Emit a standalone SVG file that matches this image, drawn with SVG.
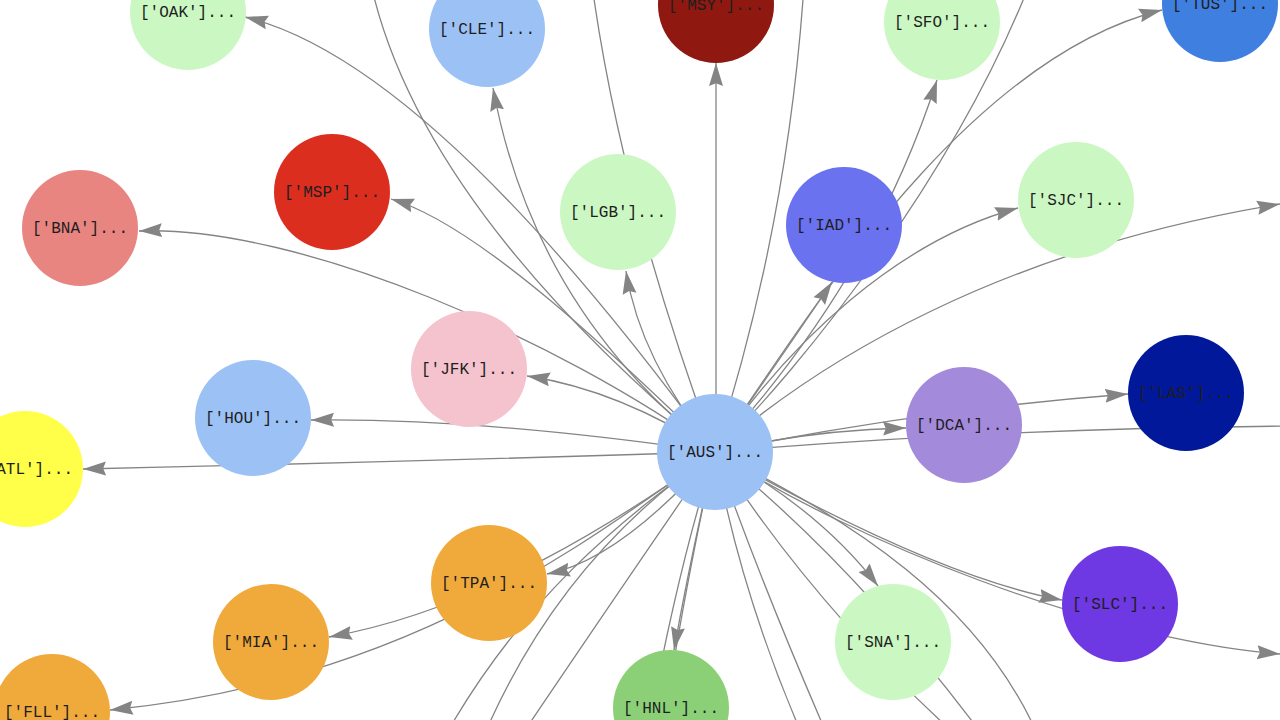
<svg xmlns="http://www.w3.org/2000/svg" width="1280" height="720" viewBox="0 0 1280 720">
<defs>
<marker id="arr" markerUnits="userSpaceOnUse" markerWidth="24" markerHeight="15" viewBox="0 0 24 15" refX="23" refY="7.5" orient="auto">
<path d="M23,7.5 L0,0.5 L2.8,7.5 L0,14.5 Z" fill="#848484"/>
</marker>
</defs>
<style>
.e{fill:none;stroke:#848484;stroke-width:1.3}
.a{marker-end:url(#arr)}
.n text{font-family:"Liberation Mono","Courier New",monospace;font-size:16px;fill:#1e1e1e;text-anchor:middle}
</style>
<rect width="1280" height="720" fill="#ffffff"/>
<g id="edges">
<path class="e a" d="M715,452 Q430,62 245,17"/>
<path class="e" d="M715,452 Q418,204 370,-20"/>
<path class="e a" d="M715,452 Q534,310 493,88"/>
<path class="e" d="M715,452 Q618,189 590,-30"/>
<path class="e a" d="M715,452 Q640,360 626,271"/>
<path class="e a" d="M716,452 L716,63"/>
<path class="e" d="M715,452 Q790,219 805,-30"/>
<path class="e a" d="M715,452 Q873,280 937,80"/>
<path class="e a" d="M715,452 C800,330 960,60 1162,10"/>
<path class="e" d="M715,452 C800,370 960,170 1035,-30"/>
<path class="e a" d="M715,452 Q800,330 832,282"/>
<path class="e a" d="M715,452 C790,340 900,240 1018,208"/>
<path class="e a" d="M715,452 C820,360 1000,250 1280,204"/>
<path class="e a" d="M715,452 C620,360 480,225 391,199"/>
<path class="e a" d="M715,452 C560,340 300,225 139,231"/>
<path class="e a" d="M715,452 Q620,390 527,376"/>
<path class="e a" d="M715,452 Q480,418 311,420"/>
<path class="e a" d="M715,452 Q400,462 83,469"/>
<path class="e a" d="M715,452 Q810,430 906,428"/>
<path class="e a" d="M715,452 Q920,410 1128,394"/>
<path class="e" d="M715,452 Q1000,428 1300,426"/>
<path class="e a" d="M715,452 Q620,560 547,574"/>
<path class="e a" d="M715,452 C620,520 480,610 329,637"/>
<path class="e a" d="M715,452 C600,530 420,680 110,710"/>
<path class="e a" d="M715,452 Q690,560 674,650"/>
<path class="e a" d="M715,452 Q820,510 878,586"/>
<path class="e a" d="M715,452 C800,500 950,580 1062,600"/>
<path class="e a" d="M715,452 C850,540 1100,640 1280,654"/>
<path class="e" d="M715,452 C620,520 520,600 440,745"/>
<path class="e" d="M715,452 C630,510 540,600 480,745"/>
<path class="e" d="M715,452 Q640,560 515,745"/>
<path class="e" d="M715,452 Q680,560 650,720"/>
<path class="e" d="M715,452 Q690,560 664,720"/>
<path class="e" d="M715,452 Q740,590 800,730"/>
<path class="e" d="M715,452 Q760,580 825,730"/>
<path class="e" d="M715,452 Q810,600 945,725"/>
<path class="e" d="M715,452 Q850,560 975,725"/>
<path class="e" d="M715,452 C850,520 980,600 1040,740"/>
</g>
<g id="node-OAK" class="n"><circle cx="188" cy="12" r="58" fill="#CBF7C2"/><text x="188" y="17">['OAK']...</text></g>
<g id="node-CLE" class="n"><circle cx="487" cy="29" r="58" fill="#9CC1F5"/><text x="487" y="34">['CLE']...</text></g>
<g id="node-MSY" class="n"><circle cx="716" cy="5" r="58" fill="#8F1911"/><text x="716" y="10">['MSY']...</text></g>
<g id="node-SFO" class="n"><circle cx="942" cy="22" r="58" fill="#CBF7C2"/><text x="942" y="27">['SFO']...</text></g>
<g id="node-TUS" class="n"><circle cx="1220" cy="4" r="58" fill="#3E7FE0"/><text x="1220" y="9">['TUS']...</text></g>
<g id="node-MSP" class="n"><circle cx="332" cy="192" r="58" fill="#DB2E1F"/><text x="332" y="197">['MSP']...</text></g>
<g id="node-BNA" class="n"><circle cx="80" cy="228" r="58" fill="#E88581"/><text x="80" y="233">['BNA']...</text></g>
<g id="node-LGB" class="n"><circle cx="618" cy="212" r="58" fill="#CBF7C2"/><text x="618" y="217">['LGB']...</text></g>
<g id="node-IAD" class="n"><circle cx="844" cy="225" r="58" fill="#6A72F0"/><text x="844" y="230">['IAD']...</text></g>
<g id="node-SJC" class="n"><circle cx="1076" cy="200" r="58" fill="#CBF7C2"/><text x="1076" y="205">['SJC']...</text></g>
<g id="node-JFK" class="n"><circle cx="469" cy="369" r="58" fill="#F4C3CD"/><text x="469" y="374">['JFK']...</text></g>
<g id="node-HOU" class="n"><circle cx="253" cy="418" r="58" fill="#9CC1F5"/><text x="253" y="423">['HOU']...</text></g>
<g id="node-ATL" class="n"><circle cx="25" cy="469" r="58" fill="#FFFF4A"/><text x="25" y="474">['ATL']...</text></g>
<g id="node-DCA" class="n"><circle cx="964" cy="425" r="58" fill="#A48ADB"/><text x="964" y="430">['DCA']...</text></g>
<g id="node-LAS" class="n"><circle cx="1186" cy="393" r="58" fill="#02189A"/><text x="1186" y="398">['LAS']...</text></g>
<g id="node-TPA" class="n"><circle cx="489" cy="583" r="58" fill="#F0AA3C"/><text x="489" y="588">['TPA']...</text></g>
<g id="node-MIA" class="n"><circle cx="271" cy="642" r="58" fill="#F0AA3C"/><text x="271" y="647">['MIA']...</text></g>
<g id="node-FLL" class="n"><circle cx="52" cy="712" r="58" fill="#F0AA3C"/><text x="52" y="717">['FLL']...</text></g>
<g id="node-HNL" class="n"><circle cx="671" cy="708" r="58" fill="#8BD077"/><text x="671" y="713">['HNL']...</text></g>
<g id="node-SNA" class="n"><circle cx="893" cy="642" r="58" fill="#CBF7C2"/><text x="893" y="647">['SNA']...</text></g>
<g id="node-SLC" class="n"><circle cx="1120" cy="604" r="58" fill="#6E38E2"/><text x="1120" y="609">['SLC']...</text></g>
<g id="node-AUS" class="n"><circle cx="715" cy="452" r="58" fill="#9CC1F5"/><text x="715" y="457">['AUS']...</text></g>
</svg>
